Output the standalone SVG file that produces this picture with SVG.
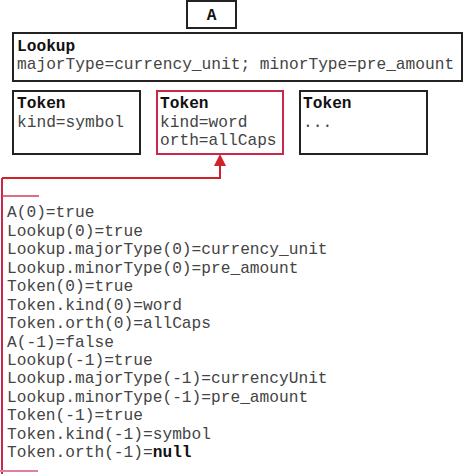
<svg xmlns="http://www.w3.org/2000/svg" width="474" height="474" viewBox="0 0 474 474">
<style>
.box{fill:#fff;stroke:#222;stroke-width:2}
.sel{fill:#fff;stroke:#c8284c;stroke-width:2}
text{font-family:"Courier New","Nimbus Mono PS","FreeMono","Liberation Mono",monospace;font-size:16.2px;fill:#444}
.b{font-weight:bold;fill:#111}
.conn{fill:none;stroke:#d0222a;stroke-width:2}
</style>
<rect width="474" height="474" fill="#fff"/>
<g id="nodeA">
<rect class="box" x="187" y="1" width="49" height="27"/>
<text class="b" x="211.5" y="20" text-anchor="middle">A</text>
</g>
<g id="lookup">
<rect class="box" x="13" y="33" width="449" height="48"/>
<text class="b" x="17" y="51">Lookup</text>
<text x="17" y="69">majorType=currency_unit; minorType=pre_amount</text>
</g>
<g id="token1">
<rect class="box" x="13" y="91" width="127" height="63"/>
<text class="b" x="17" y="108">Token</text>
<text x="17" y="126.5">kind=symbol</text>
</g>
<g id="token2">
<rect class="sel" x="157" y="91" width="126" height="63"/>
<text class="b" x="160" y="108">Token</text>
<text x="160" y="126.5">kind=word</text>
<text x="160" y="145">orth=allCaps</text>
</g>
<g id="token3">
<rect class="box" x="300" y="91" width="127" height="63"/>
<text class="b" x="303" y="108">Token</text>
<text x="303" y="126.5">...</text>
</g>
<g id="connectors">
<path class="conn" d="M220,166 L220,178 L2,178"/>
<path d="M214,166 L226,166 L220,154 Z" fill="#d0222a"/>
<path d="M2,178 L2,474" fill="none" stroke="#c8284c" stroke-width="2"/>
<path d="M2,196 L39,196" fill="none" stroke="#d0405a" stroke-width="1.5"/>
<path d="M0,471 L38,471" fill="none" stroke="#e080a0" stroke-width="2"/>
</g>
<g id="features">
<text x="7" y="217.3">A(0)=true</text>
<text x="7" y="235.8">Lookup(0)=true</text>
<text x="7" y="254.2">Lookup.majorType(0)=currency_unit</text>
<text x="7" y="272.7">Lookup.minorType(0)=pre_amount</text>
<text x="7" y="291.1">Token(0)=true</text>
<text x="7" y="309.6">Token.kind(0)=word</text>
<text x="7" y="328.1">Token.orth(0)=allCaps</text>
<text x="7" y="346.5">A(-1)=false</text>
<text x="7" y="365">Lookup(-1)=true</text>
<text x="7" y="383.4">Lookup.majorType(-1)=currencyUnit</text>
<text x="7" y="401.9">Lookup.minorType(-1)=pre_amount</text>
<text x="7" y="420.4">Token(-1)=true</text>
<text x="7" y="438.8">Token.kind(-1)=symbol</text>
<text x="7" y="457.3">Token.orth(-1)=<tspan class="b">null</tspan></text>
</g>
</svg>
